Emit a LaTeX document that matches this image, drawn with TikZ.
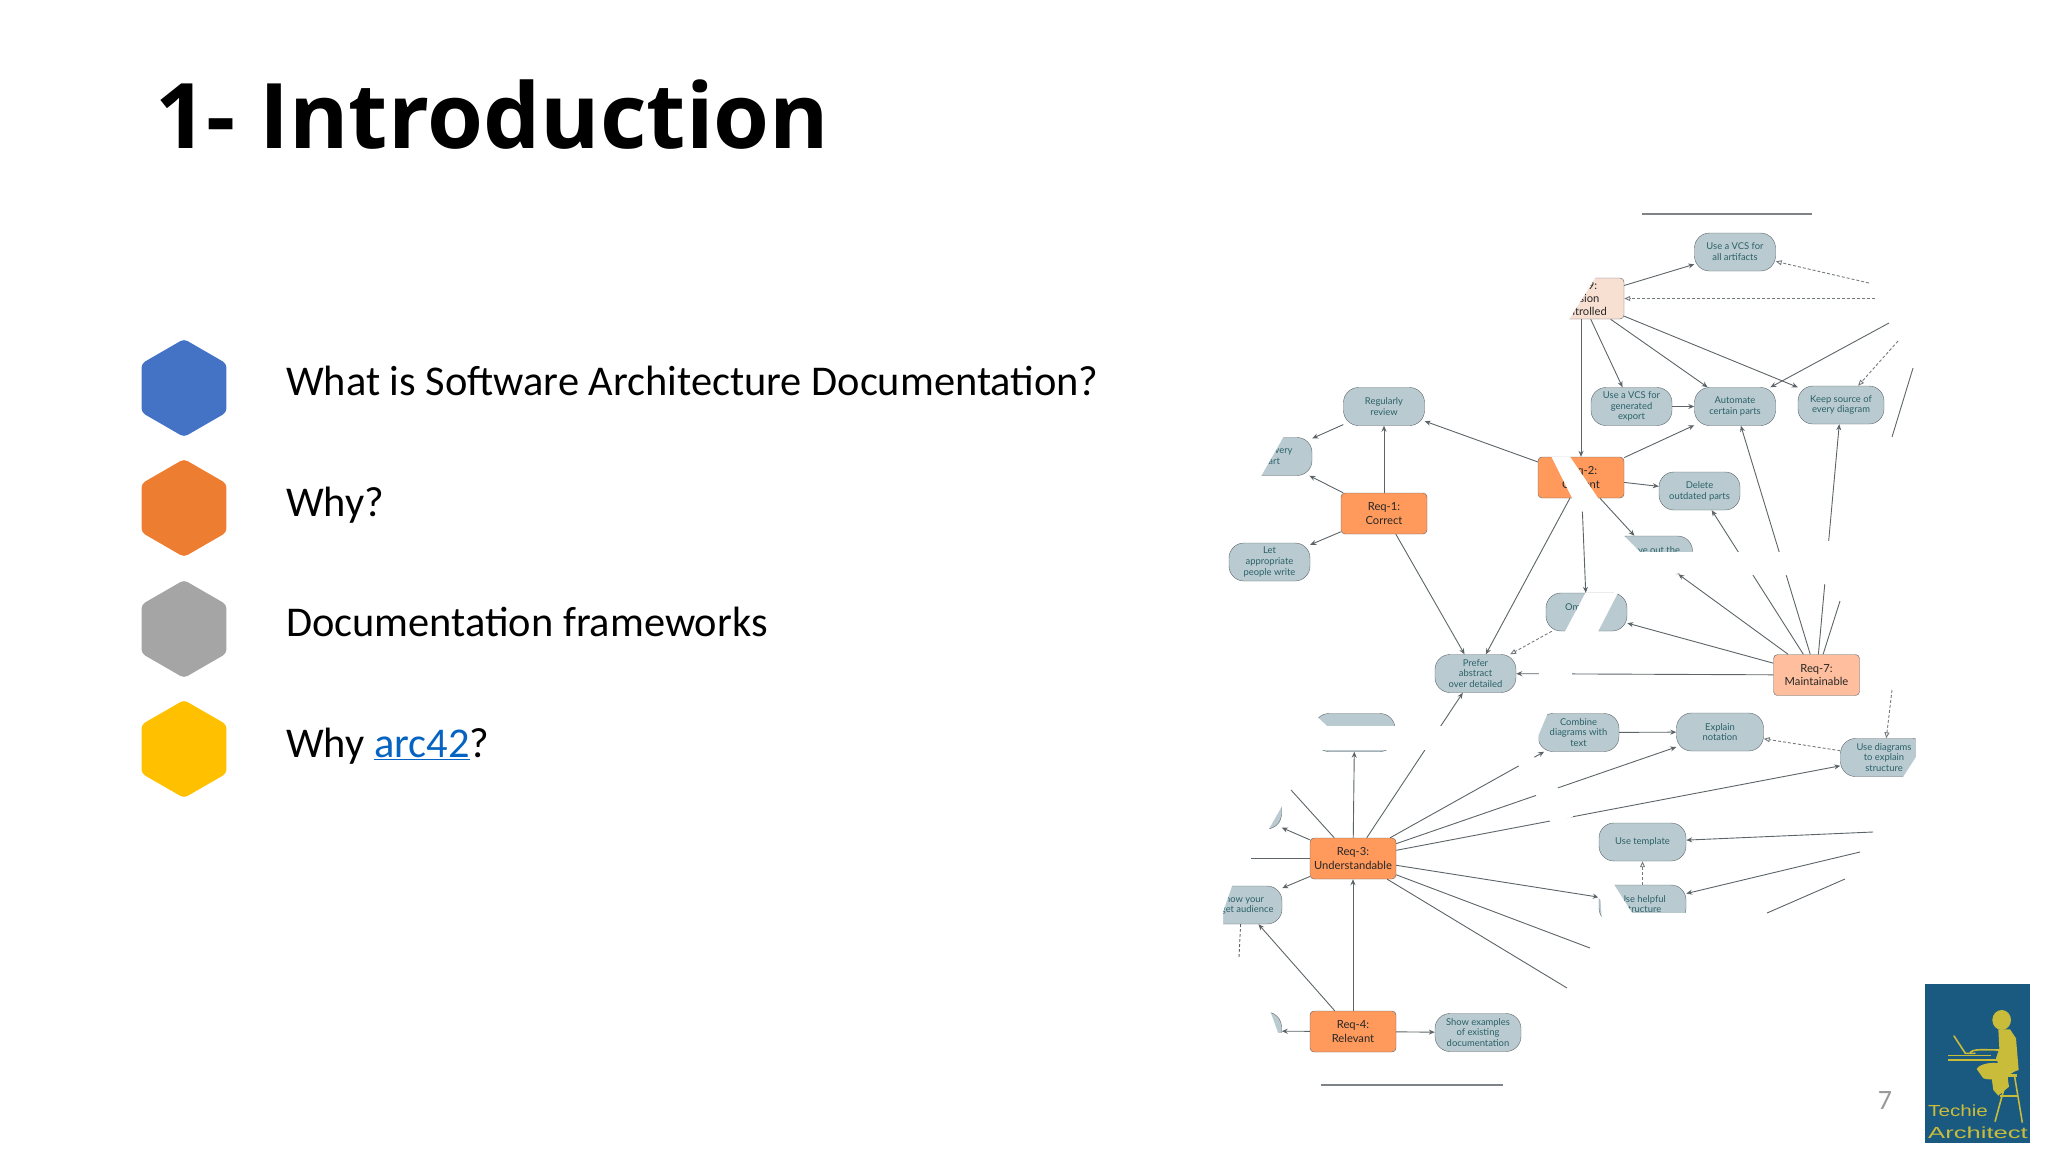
\documentclass[tikz,border=0pt]{standalone}
\usepackage{fontspec}
\setmainfont{Carlito}
\newfontfamily\titlefont{Open Sans}
\newfontfamily\mapfont{Lato}
\newfontfamily\logofont{Liberation Sans}
\usetikzlibrary{arrows.meta,shapes.geometric}
\definecolor{ideafill}{HTML}{B9CBD1}
\definecolor{ideatext}{HTML}{2B6068}
\definecolor{edgegray}{HTML}{5C6468}
\definecolor{goalfill}{HTML}{FF9A5C}
\definecolor{softfill}{HTML}{FFBF9E}
\definecolor{paleill}{HTML}{F7DFD2}
\definecolor{logoblue}{HTML}{1B5A80}
\definecolor{logoyellow}{HTML}{C9BC3A}
\begin{document}
\begin{tikzpicture}[
x=1pt, y=-1pt,
>={Stealth[length=6pt,width=5pt]},
idea/.style = {draw=edgegray, fill=ideafill, rounded corners=15pt, minimum width=81pt, minimum height=38pt, inner sep=0pt, align=center, text=ideatext, font=\mapfont\fontsize{9.4}{10.8}\selectfont, execute at begin node={\vspace*{2pt}}},
goal/.style = {draw=edgegray, fill=goalfill, rounded corners=4pt, minimum width=86pt, minimum height=41pt, inner sep=0pt, align=center, text=black!85, font=\mapfont\fontsize{11.2}{13.2}\selectfont, execute at begin node={\vspace*{2pt}}},
hexa/.style = {regular polygon, regular polygon sides=6, shape border rotate=30, minimum size=98pt, inner sep=0pt, rounded corners=4pt},
bullet/.style = {anchor=base west, font=\fontsize{42.4}{50}\selectfont},
link/.style = {draw=edgegray, line width=0.9pt, ->},
plain/.style = {draw=edgegray, line width=0.9pt},
hint/.style = {draw=edgegray!85, line width=0.9pt, dashed, dash pattern=on 3pt off 2pt, -{Triangle[open,length=6pt,width=5pt]}},
cut/.style = {fill=white, draw=none}]
\useasboundingbox (0,0) rectangle (2048,1152);

% slide text
\node[anchor=base west, inner sep=0pt, font=\titlefont\bfseries\fontsize{90.5}{100}\selectfont] (title) at (155,148) {1- Introduction};
\node[hexa, fill={rgb,255:red,68;green,114;blue,196}] (hex1) at (184,388) {};
\node[hexa, fill={rgb,255:red,237;green,125;blue,49}] (hex2) at (184,508) {};
\node[hexa, fill={rgb,255:red,165;green,165;blue,165}] (hex3) at (184,629) {};
\node[hexa, fill={rgb,255:red,255;green,192;blue,0}] (hex4) at (184,749) {};
\node[bullet, inner sep=0pt] (item1) at (286,395) {What is Software Architecture Documentation?};
\node[bullet, inner sep=0pt] (item2) at (286,516) {Why?};
\node[bullet, inner sep=0pt] (item3) at (286,636) {Documentation frameworks};
\node[bullet, inner sep=0pt] (item4) at (286,757) {Why \textcolor[HTML]{0563C1}{\underline{arc42}}?};
\node[anchor=base, inner sep=0pt, text=black!40, font=\fontsize{28}{30}\selectfont] (page) at (1885,1109) {7};

% nodes of the map
\node[idea] (vcsall) at (1735,252) {Use a VCS for\\all artifacts};
\node[goal, fill=paleill] (req9) at (1581,298.5) {Req-9:\\Version\\Controlled};
\node[idea] (vcsgen) at (1631.5,406.5) {Use a VCS for\\generated\\export};
\node[idea] (automate) at (1735,406.5) {Automate\\certain parts};
\node[idea, minimum width=86pt] (keep) at (1841,405) {Keep source of\\every diagram};
\node[idea] (review) at (1384,406.5) {Regularly\\review};
\node[idea] (testevery) at (1271.5,456.5) {Test every\\part};
\node[goal] (req1) at (1384,513.5) {Req-1:\\Correct};
\node[goal] (req2) at (1581,477.5) {Req-2:\\Current};
\node[idea] (delete) at (1699.5,491) {Delete\\outdated parts};
\node[idea] (leave) at (1652,555) {Leave out the\\~};
\node[idea] (letwrite) at (1269.5,562) {Let\\appropriate\\people write};
\node[idea] (omit) at (1586.5,612) {Omit\hspace*{22pt}\\~};
\node[idea] (prefer) at (1475.5,673.5) {Prefer\\abstract\\over detailed};
\node[goal, fill=softfill] (req7) at (1816.5,675) {Req-7:\\Maintainable};
\node[idea] (topnode) at (1354.5,732.5) {};
\node[idea] (combine) at (1578.5,732.5) {Combine\\diagrams with\\text};
\node[idea, minimum width=87pt] (explain) at (1720,732) {Explain\\notation};
\node[idea, minimum width=87pt] (usediag) at (1884,757.5) {Use diagrams\\to explain\\structure};
\node[idea, minimum width=87pt] (template) at (1642.5,842) {Use template};
\node[idea, minimum width=87pt] (helpful) at (1642.5,904) {Use helpful\\structure};
\node[goal] (req3) at (1353,858.5) {Req-3:\\Understandable};
\node[goal] (req4) at (1353,1031.5) {Req-4:\\Relevant};
\node[idea, minimum width=86pt] (show) at (1478,1032.5) {Show examples\\of existing\\documentation};
\node[idea] (know) at (1241.5,905) {Know your\\target audience};
\node[idea] (upleft) at (1241,810) {};
\node[idea] (lowleft) at (1241,1031) {};

% free ends of the cut connectors
\coordinate (rimtopa) at (1642,214);
\coordinate (rimtopb) at (1812,214);
\coordinate (rimbota) at (1321,1085);
\coordinate (rimbotb) at (1503,1085);
\coordinate (fromauto) at (1889,323);
\coordinate (fromvcs) at (1869,283);
\coordinate (fromreq9) at (1875,298.5);
\coordinate (fromkeep) at (1898,341);
\coordinate (stubra) at (1913,368);
\coordinate (stubrb) at (1892,437);
\coordinate (sevenup) at (1840,601);
\coordinate (fromdiag) at (1892,690);
\coordinate (knowdash) at (1239,957);
\coordinate (threeul) at (1291,790);
\coordinate (threel) at (1251,858.5);
\coordinate (threedra) at (1590,948);
\coordinate (threedrb) at (1567,988);
\coordinate (fromtmpl) at (1873,832);
\coordinate (fromhelp) at (1860,852);
\coordinate (stubla) at (1845,879);
\coordinate (stublb) at (1767,913);

\draw[plain, line width=1.4pt, edgegray!80] (rimtopa) -- (rimtopb);
\draw[plain, line width=1.4pt, edgegray!80] (rimbota) -- (rimbotb);
\draw[plain] (stubra) -- (stubrb);
\draw[plain] (stubla) -- (stublb);

\draw[link] (req9) -- (vcsall);
\draw[link] (req9) -- (vcsgen);
\draw[link] (req9) -- (automate);
\draw[link] (req9) -- (keep);
\draw[link] (req9) -- (req2);
\draw[link] (vcsgen) -- (automate);
\draw[link] (fromauto) -- (automate);
\draw[hint] (fromvcs) -- (vcsall);
\draw[hint] (fromreq9) -- (req9);
\draw[hint] (fromkeep) -- (keep);

\draw[link] (review) -- (testevery);
\draw[link] (req1) -- (review);
\draw[link] (req1) -- (testevery);
\draw[link] (req1) -- (letwrite);
\draw[link] (req1) -- (prefer);

\draw[link] (req2) -- (review);
\draw[link] (req2) -- (automate);
\draw[link] (req2) -- (delete);
\draw[link] (req2) -- (leave);
\draw[link] (req2) -- (omit);
\draw[link] (req2) -- (prefer);
\draw[hint] (omit) -- (prefer);

\draw[link] (req7) -- (omit);
\draw[link] (req7) -- (prefer);
\draw[link] (req7) -- (leave);
\draw[link] (req7) -- (delete);
\draw[link] (req7) -- (automate);
\draw[link] (req7) -- (keep);
\draw[plain] (req7) -- (sevenup);

\draw[link] (req3) -- (topnode);
\draw[link] (req3) -- (prefer);
\draw[link] (req3) -- (combine);
\draw[link] (req3) -- (explain);
\draw[link] (req3) -- (usediag);
\draw[link] (req3) -- (helpful);
\draw[link] (req3) -- (upleft);
\draw[link] (req3) -- (know);
\draw[plain] (req3) -- (threeul);
\draw[plain] (req3) -- (threel);
\draw[plain] (req3) -- (threedra);
\draw[plain] (req3) -- (threedrb);

\draw[link] (req4) -- (req3);
\draw[link] (req4) -- (know);
\draw[link] (req4) -- (show);
\draw[link] (combine) -- (explain);
\draw[hint] (usediag) -- (explain);
\draw[hint] (fromdiag) -- (usediag);
\draw[hint] (helpful) -- (template);
\draw[link] (fromtmpl) -- (template);
\draw[link] (fromhelp) -- (helpful);
\draw[plain, dashed, dash pattern=on 3pt off 2pt] (know) -- (knowdash);

% white patches over the map
\fill[cut] (1533,275) -- (1597,275) -- (1568.4,320.5) -- (1533,320.5) -- cycle;
\fill[cut] (1551.4,456.7) -- (1570,456.7) -- (1598,498) -- (1584,511.7) -- (1581,511.7) -- (1572,498) -- cycle;
\fill[cut] (1225,434) -- (1285,434) -- (1260,478) -- (1225,478) -- cycle;
\fill[cut] (1605,534) -- (1622,534) -- (1640,552) -- (1820,552) -- (1822,541) -- (1840,541) -- (1840,584) -- (1820,584) -- (1820,575) -- (1684,575) -- (1678,573) -- (1672,576) -- (1605,576) -- cycle;
\fill[cut] (1585.4,593) -- (1617.8,593) -- (1597.5,632.5) -- (1564.5,632.5) -- cycle;
\fill[cut] (1539,667) rectangle (1572,681);
\fill[cut] (1305,725.5) rectangle (1450,749.5);
\fill[cut] (1308,712) -- (1312,712) -- (1327,726) -- (1308,726) -- cycle;
\fill[cut] (1530,710) -- (1549,710) -- (1538.5,735) -- (1538.5,749) -- (1530,749) -- cycle;
\fill[cut] (1513,756) -- (1534,757) -- (1558,788) -- (1573,817) -- (1551,823) -- (1537,797) -- cycle;
\fill[cut] (1596,880) -- (1613,883) -- (1632,913) -- (1692,913) -- (1692,926) -- (1602,926) -- (1601,905) -- (1600.5,900) -- (1596,895) -- cycle;
\fill[cut] (1195,880) -- (1234,880) -- (1223,912) -- (1223,930) -- (1195,930) -- cycle;
\fill[cut] (1195,785) -- (1290,785) -- (1290,806) -- (1282,806) -- (1268.5,829.5) -- (1268.5,833) -- (1195,833) -- cycle;
\fill[cut] (1195,1005) -- (1268,1005) -- (1278,1033) -- (1290,1033) -- (1290,1055) -- (1195,1055) -- cycle;
\fill[cut] (1916,733) -- (1935,733) -- (1935,782) -- (1900,782) -- (1916,757) -- cycle;
\draw[link] (req4) -- (lowleft);

% logo
\node[fill=logoblue, minimum width=105pt, minimum height=159pt, inner sep=0pt] (logo) at (1977.5,1063.5) {};
\begin{scope}[shift={(1860,970)}, x=0.3333pt, y=-0.3333pt, logoyellow]
\fill (425,150) ellipse (28 and 30);
\fill (415,178) -- (450,178) -- (468,205) -- (476,300) -- (430,316) -- (408,265) -- (418,235) -- cycle;
\fill (350,297) .. controls (360,275) and (430,270) .. (470,298) .. controls (450,320) and (400,335) .. (370,325) -- cycle;
\fill (395,325) -- (442,318) -- (447,350) -- (415,377) -- (400,360) -- cycle;
\draw[line width=1.6pt, line cap=round] (282,198) -- (316,250) -- (345,250);
\draw[line width=1.6pt] (330,250) .. controls (335,235) and (370,240) .. (425,240);
\draw[line width=1.2pt] (265,256) -- (392,256);
\draw[line width=1.2pt] (265,270) -- (410,270);
\draw[line width=2.4pt] (428,316) -- (472,316);
\draw[line width=1.6pt] (442,320) -- (405,455);
\draw[line width=1.6pt] (464,320) -- (487,458);
\draw[line width=1.2pt] (420,378) -- (470,378);
\end{scope}
\node[anchor=base west, inner sep=0pt, text=logoyellow, font=\logofont\fontsize{16}{16}\selectfont] (techie) at (1928,1116) {\scalebox{1.29}[1]{Techie}};
\node[anchor=base west, inner sep=0pt, text=logoyellow, font=\logofont\fontsize{16}{16}\selectfont] (architect) at (1928,1138) {\scalebox{1.6}[1]{Architect}};
\end{tikzpicture}
\end{document}
